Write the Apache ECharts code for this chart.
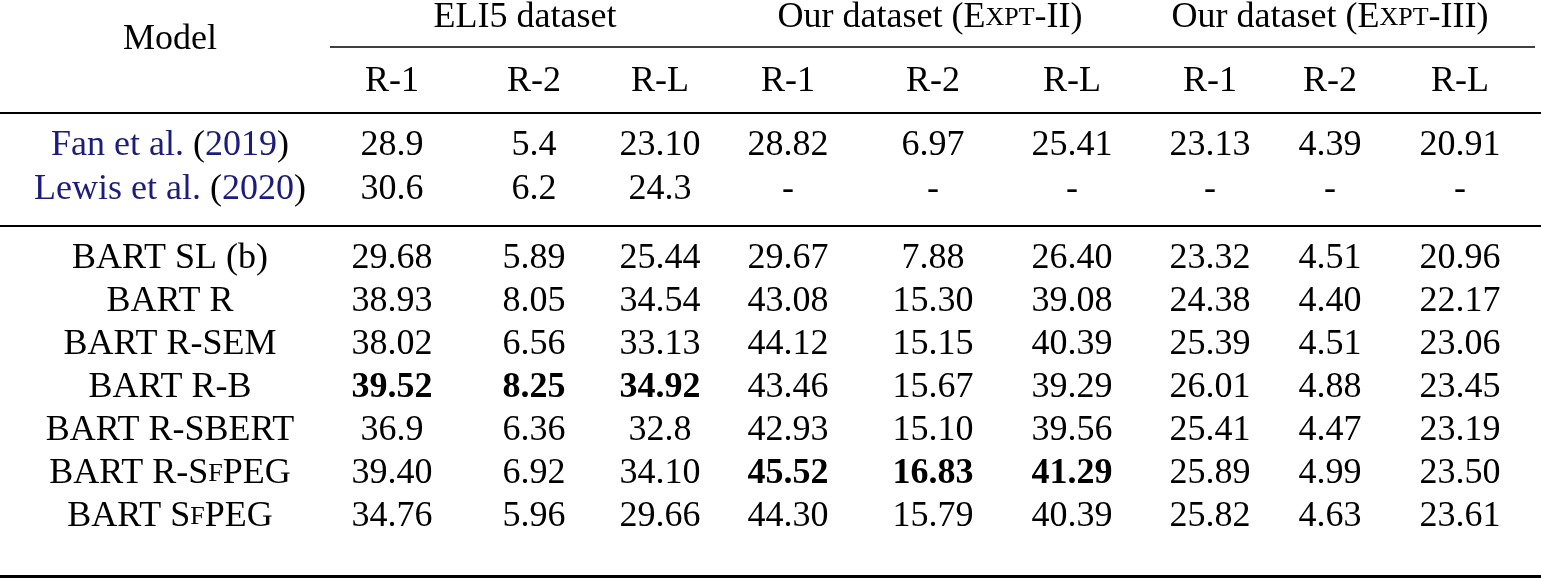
<!DOCTYPE html>
<html><head><meta charset="utf-8">
<script src="https://cdn.jsdelivr.net/npm/echarts@6.0.0/dist/echarts.min.js"></script>
<style>html,body{margin:0;background:#fff}#c{width:1541px;height:579px}</style>
</head><body><div id="c"></div>
<script>
// table data
const models = ['Fan', 'Lewis', 'BART SL (b)', 'BART R', 'BART R-SEM', 'BART R-B', 'BART R-SBERT', 'BART R-SfPEG', 'BART SfPEG'];
const eli5 = [
  ['28.9', '5.4', '23.10'], ['30.6', '6.2', '24.3'], ['29.68', '5.89', '25.44'], ['38.93', '8.05', '34.54'],
  ['38.02', '6.56', '33.13'], ['39.52', '8.25', '34.92'], ['36.9', '6.36', '32.8'], ['39.40', '6.92', '34.10'], ['34.76', '5.96', '29.66']];
const expt2 = [
  ['28.82', '6.97', '25.41'], ['-', '-', '-'], ['29.67', '7.88', '26.40'], ['43.08', '15.30', '39.08'],
  ['44.12', '15.15', '40.39'], ['43.46', '15.67', '39.29'], ['42.93', '15.10', '39.56'], ['45.52', '16.83', '41.29'], ['44.30', '15.79', '40.39']];
const expt3 = [
  ['23.13', '4.39', '20.91'], ['-', '-', '-'], ['23.32', '4.51', '20.96'], ['24.38', '4.40', '22.17'],
  ['25.39', '4.51', '23.06'], ['26.01', '4.88', '23.45'], ['25.41', '4.47', '23.19'], ['25.89', '4.99', '23.50'], ['25.82', '4.63', '23.61']];
const metrics = ['R-1', 'R-2', 'R-L'];
// bold: [row, column group]
const boldCells = [[5, 0], [7, 1]];

// layout
const colX = [170, 392, 534, 660, 788, 933, 1072, 1210, 1330, 1460];
const groupX = [525, 930, 1330];
const rowY = [146, 190, 259, 302, 345, 388, 431, 474, 517];
const NAVY = '#1c1c7c';
const SP = '\u00a0';

const modelLabel = {
  'Fan': '{c|Fan' + SP + 'et' + SP + 'al.' + SP + '}{n|(}{c|2019}{n|)}',
  'Lewis': '{c|Lewis' + SP + 'et' + SP + 'al.' + SP + '}{n|(}{c|2020}{n|)}',
  'BART R-SfPEG': '{n|BART R-S}{s|F}{n|PEG}',
  'BART SfPEG': '{n|BART S}{s|F}{n|PEG}'
};
const F = 'Liberation Serif';
const base = { fontFamily: F, fontSize: 36, color: '#000', textBorderWidth: 0 };
const rich = {
  n: { ...base },
  b: { ...base, fontWeight: 'bold' },
  c: { ...base, color: NAVY },
  s: { ...base, fontSize: 26 }
};

const cells = [];
models.forEach((m, i) => {
  cells.push({ value: [colX[0], rowY[i]], t: modelLabel[m] || '{n|' + m + '}' });
  [eli5, expt2, expt3].forEach((g, gi) => {
    const bold = boldCells.some(b => b[0] === i && b[1] === gi);
    g[i].forEach((v, k) => cells.push({ value: [colX[1 + gi * 3 + k], rowY[i]], t: '{' + (bold ? 'b' : 'n') + '|' + v + '}' }));
  });
});
cells.push({ value: [colX[0], 40], t: '{n|Model}' });
metrics.concat(metrics, metrics).forEach((m, k) => cells.push({ value: [colX[k + 1], 82], t: '{n|' + m + '}' }));
cells.push({ value: [groupX[0], 18], t: '{n|ELI5' + SP + 'dataset}' });
cells.push({ value: [groupX[1], 18], t: '{n|Our' + SP + 'dataset' + SP + '(E}{s|XPT}{n|-II)}' });
cells.push({ value: [groupX[2], 18], t: '{n|Our' + SP + 'dataset' + SP + '(E}{s|XPT}{n|-III)}' });

const rules = [
  { coords: [[330, 47], [1535, 47]], lineStyle: { width: 1.5 } },
  { coords: [[0, 113], [1541, 113]], lineStyle: { width: 2 } },
  { coords: [[0, 226], [1541, 226]], lineStyle: { width: 2 } },
  { coords: [[0, 576], [1541, 576]], lineStyle: { width: 3 } }
];

const chart = echarts.init(document.getElementById('c'));
chart.setOption({
  animation: false,
  grid: { left: 0, right: 0, top: 0, bottom: 0 },
  xAxis: { type: 'value', min: 0, max: 1541, show: false },
  yAxis: { type: 'value', min: 0, max: 579, inverse: true, show: false },
  series: [
    {
      type: 'scatter', symbolSize: 0, data: cells, itemStyle: { opacity: 1 },
      label: { show: true, position: 'inside', color: '#000', opacity: 1, formatter: p => p.data.t, rich }
    },
    { type: 'lines', coordinateSystem: 'cartesian2d', data: rules, lineStyle: { color: '#000', opacity: 1 } }
  ]
});
</script></body></html>
